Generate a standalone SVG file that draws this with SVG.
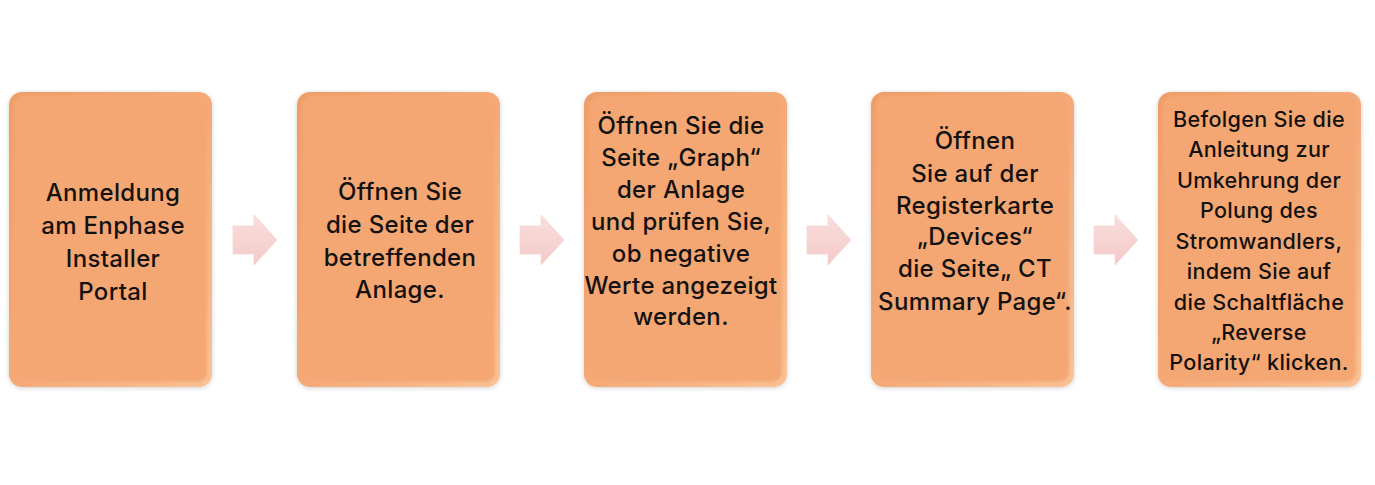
<svg xmlns="http://www.w3.org/2000/svg" width="1375" height="485" viewBox="0 0 1375 485">
<defs>
<linearGradient id="bevel" x1="0" y1="0" x2="1" y2="1">
<stop offset="0" stop-color="#EE9D68"/>
<stop offset="0.5" stop-color="#F4A976"/>
<stop offset="1" stop-color="#F9C296"/>
</linearGradient>
<linearGradient id="arrowFill" x1="0" y1="0" x2="0" y2="1">
<stop offset="0" stop-color="#F9DEDC"/>
<stop offset="1" stop-color="#F3CAC7"/>
</linearGradient>
<filter id="soft" x="-10%" y="-10%" width="120%" height="120%">
<feGaussianBlur stdDeviation="1.5"/>
</filter>
<filter id="shadow" x="-10%" y="-10%" width="120%" height="120%">
<feGaussianBlur in="SourceAlpha" stdDeviation="2.5"/>
<feOffset dx="0" dy="1"/>
<feComponentTransfer><feFuncA type="linear" slope="0.18"/></feComponentTransfer>
<feMerge><feMergeNode/><feMergeNode in="SourceGraphic"/></feMerge>
</filter>
</defs>
<style>
.box-outer{fill:url(#bevel);filter:url(#shadow);}
.box-inner{fill:#F4A773;filter:url(#soft);}
.lbl{font-family:Inter,"Liberation Sans",Arial,sans-serif;font-size:24px;font-weight:500;letter-spacing:0.35px;fill:#141210;text-anchor:middle;}
.lbl-s{font-size:21.6px;letter-spacing:0.3px;}
.arrow{fill:url(#arrowFill);stroke:#F6D6D3;stroke-width:0.8;}
</style>
<rect width="1375" height="485" fill="#FFFFFF"/>
<g id="connectors">
<path class="arrow" d="M233,226 H254 V215 L277,240 L254,265 V254 H233 Z"/>
<path class="arrow" d="M520,226 H541 V215 L564,240 L541,265 V254 H520 Z"/>
<path class="arrow" d="M807,226 H828 V215 L851,240 L828,265 V254 H807 Z"/>
<path class="arrow" d="M1094,226 H1115 V215 L1138,240 L1115,265 V254 H1094 Z"/>
</g>
<g id="node1">
<rect class="box-outer" x="9" y="92" width="203" height="295" rx="13"/>
<rect class="box-inner" x="14" y="96" width="193" height="286" rx="10"/>
<text class="lbl" x="113" y="201">Anmeldung</text>
<text class="lbl" x="113" y="234">am Enphase</text>
<text class="lbl" x="113" y="267">Installer</text>
<text class="lbl" x="113" y="300">Portal</text>
</g>
<g id="node2">
<rect class="box-outer" x="297" y="92" width="203" height="295" rx="13"/>
<rect class="box-inner" x="302" y="96" width="193" height="286" rx="10"/>
<text class="lbl" x="400" y="200">Öffnen Sie</text>
<text class="lbl" x="400" y="233">die Seite der</text>
<text class="lbl" x="400" y="265.5">betreffenden</text>
<text class="lbl" x="400" y="298">Anlage.</text>
</g>
<g id="node3">
<rect class="box-outer" x="584" y="92" width="203" height="295" rx="13"/>
<rect class="box-inner" x="589" y="96" width="193" height="286" rx="10"/>
<text class="lbl" x="681" y="134">Öffnen Sie die</text>
<text class="lbl" x="681" y="166">Seite „Graph“</text>
<text class="lbl" x="681" y="198">der Anlage</text>
<text class="lbl" x="681" y="230">und prüfen Sie,</text>
<text class="lbl" x="681" y="262">ob negative</text>
<text class="lbl" x="681" y="293.5">Werte angezeigt</text>
<text class="lbl" x="681" y="325">werden.</text>
</g>
<g id="node4">
<rect class="box-outer" x="871" y="92" width="203" height="295" rx="13"/>
<rect class="box-inner" x="876" y="96" width="193" height="286" rx="10"/>
<text class="lbl" x="975" y="149">Öffnen</text>
<text class="lbl" x="975" y="181.5">Sie auf der</text>
<text class="lbl" x="975" y="213.5">Registerkarte</text>
<text class="lbl" x="975" y="245">„Devices“</text>
<text class="lbl" x="975" y="277">die Seite„ CT</text>
<text class="lbl" x="975" y="309.5">Summary Page“.</text>
</g>
<g id="node5">
<rect class="box-outer" x="1158" y="92" width="203" height="295" rx="13"/>
<rect class="box-inner" x="1163" y="96" width="193" height="286" rx="10"/>
<text class="lbl lbl-s" x="1259" y="126.5">Befolgen Sie die</text>
<text class="lbl lbl-s" x="1259" y="157">Anleitung zur</text>
<text class="lbl lbl-s" x="1259" y="187.5">Umkehrung der</text>
<text class="lbl lbl-s" x="1259" y="218">Polung des</text>
<text class="lbl lbl-s" x="1259" y="248.5">Stromwandlers,</text>
<text class="lbl lbl-s" x="1259" y="279">indem Sie auf</text>
<text class="lbl lbl-s" x="1259" y="309.5">die Schaltfläche</text>
<text class="lbl lbl-s" x="1259" y="340">„Reverse</text>
<text class="lbl lbl-s" x="1259" y="370">Polarity“ klicken.</text>
</g>
</svg>
